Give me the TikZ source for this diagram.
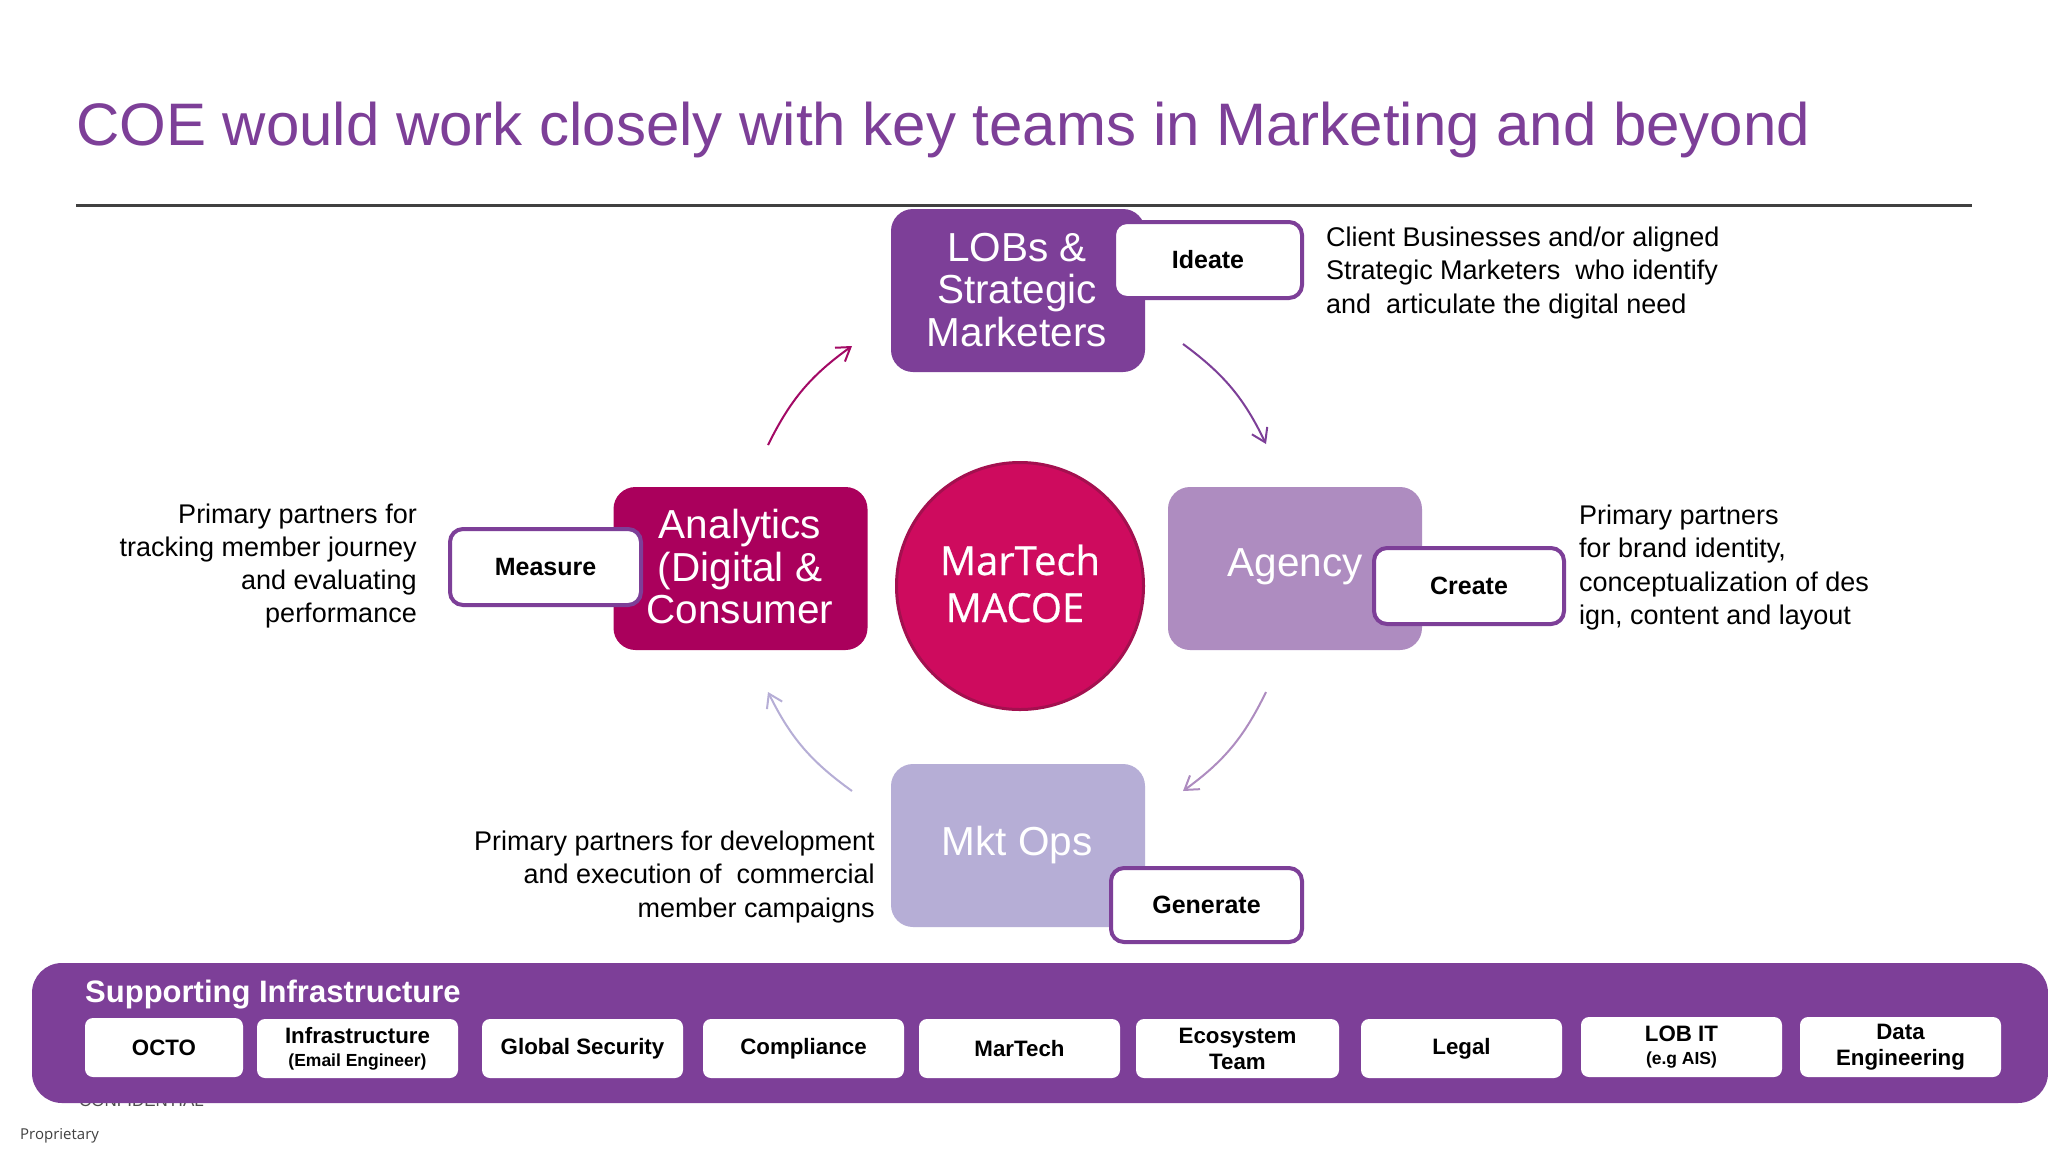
\documentclass[tikz,border=0pt]{standalone}
\usepackage{fontspec}
\setmainfont{Liberation Sans}
\newfontfamily\circlefont[FakeBold=0.6]{Open Sans}
\newfontfamily\propfont{Open Sans}
\usetikzlibrary{arrows.meta}
\definecolor{cpurple}{HTML}{7D3F98}
\definecolor{cmagenta}{HTML}{AA005C}
\definecolor{clilac}{HTML}{AE8CC0}
\definecolor{cperi}{HTML}{B6AED6}
\definecolor{cpink}{HTML}{CE0B5E}
\definecolor{cpinkdark}{HTML}{A3104F}
\definecolor{crule}{HTML}{404040}
\tikzset{
  x=1pt,y=-1pt,
  bigbox/.style={rounded corners=22pt,minimum width=254pt,minimum height=163pt,inner sep=0pt,outer sep=0pt},
  chip/.style={draw=cpurple,fill=white,line width=4pt,rounded corners=13pt,inner sep=0pt,outer sep=0pt,font=\bfseries\fontsize{25}{28}\selectfont,text=black},
  bigtext/.style={align=center,text=white,inner sep=0pt,font=\fontsize{40.5}{42.5}\selectfont},
  desc/.style={inner sep=0pt,text=black,font=\fontsize{27}{33.3}\selectfont},
  infra/.style={fill=white,rounded corners=8pt,inner sep=0pt,outer sep=0pt,align=center,text=black,font=\bfseries\fontsize{22.3}{26}\selectfont},
  cyc/.style={line width=2pt,-{Straight Barb[length=13pt,width=17pt,line width=2pt]}},
}
\newcommand{\subtxt}[1]{{\fontsize{17.5}{20}\selectfont #1}}
\begin{document}
\begin{tikzpicture}
\useasboundingbox (0,0) rectangle (2048,1152);
\fill[white] (0,0) rectangle (2048,1152);
\node[anchor=base west,inner sep=0pt,text=cpurple,font=\fontsize{60}{64}\selectfont] (title) at (76,145) {COE would work closely with key teams in Marketing and beyond};
\coordinate (ruleL) at (76,205);
\coordinate (ruleR) at (1972,205);
\draw[crule,line width=3pt] (ruleL) -- (ruleR);
% big boxes
\node[bigbox,fill=cpurple] (lobs) at (1018,290.5) {};
\node[bigbox,fill=cmagenta] (analytics) at (740.5,568.5) {};
\node[bigbox,fill=clilac] (agency) at (1295,568.5) {};
\node[bigbox,fill=cperi] (mktops) at (1018,845.5) {};
\node[bigtext] (lobst) at (1017,290) {LOBs \&\\Strategic\\Marketers};
\node[bigtext] (analyticst) at (740,567) {Analytics\\(Digital \&\\Consumer};
\node[bigtext] (agencyt) at (1295,567) {Agency};
\node[bigtext] (mktopst) at (1017,845) {Mkt Ops};
% circle
\node[circle,fill=cpink,draw=cpinkdark,line width=3pt,minimum size=247pt,inner sep=0pt,outer sep=0pt] (core) at (1020,586) {};
\node[anchor=base,inner sep=0pt,text=white,font=\circlefont\fontsize{40}{44}\selectfont] (coret1) at (1020,575) {MarTech};
\node[anchor=base,inner sep=0pt,text=white,font=\circlefont\fontsize{40}{44}\selectfont] (coret2) at (1015,622) {MACOE};
% chips
\node[chip,minimum width=188pt,minimum height=76pt] (ideate) at (1208,260) {Ideate};
\node[chip,minimum width=191pt,minimum height=76pt] (measure) at (545.5,567) {Measure};
\node[chip,minimum width=190pt,minimum height=76pt] (create) at (1469,586) {Create};
\node[chip,minimum width=191pt,minimum height=74pt] (generate) at (1206.5,905) {Generate};
% descriptions
\node[desc,anchor=west,align=left] (d1) at (1326,273) {Client Businesses and/or aligned\\Strategic Marketers\ \ who identify\\and\ \ articulate the digital need};
\node[desc,anchor=west,align=left] (d2) at (1579,567.5) {Primary partners\\for brand identity,\\conceptualization of des\\ign, content and layout};
\node[desc,anchor=east,align=right] (d3) at (417,566) {Primary partners for\\tracking member journey\\and evaluating\\performance};
\node[desc,anchor=east,align=right] (d4) at (875,877) {Primary partners for development\\and execution of\ \ commercial\\member campaigns};
% cycle arrows
\coordinate (a1s) at (768,445); \coordinate (a1e) at (852,346);
\coordinate (a2s) at (1183,344); \coordinate (a2e) at (1266,444);
\coordinate (a3s) at (1266,692); \coordinate (a3e) at (1183,791);
\coordinate (a4s) at (852,791); \coordinate (a4e) at (768,692);
\draw[cyc,color=cmagenta!85!cpurple] (a1s) to[bend left=14] (a1e);
\draw[cyc,color=cpurple] (a2s) to[bend left=14] (a2e);
\draw[cyc,color=clilac] (a3s) to[bend left=14] (a3e);
\draw[cyc,color=cperi] (a4s) to[bend left=14] (a4e);
% footer text behind the bar
\node[anchor=base west,inner sep=0pt,text=black!70,font=\fontsize{17}{20}\selectfont] (conf) at (79,1106.5) {CONFIDENTIAL};
% supporting bar
\node[fill=cpurple,rounded corners=30pt,minimum width=2016pt,minimum height=140pt,inner sep=0pt,outer sep=0pt] (bar) at (1040,1033) {};
\node[anchor=base west,inner sep=0pt,text=white,font=\bfseries\fontsize{31}{34}\selectfont] (bart) at (85,1002) {Supporting Infrastructure};
\node[infra,minimum width=158pt,minimum height=59pt] (i1) at (164,1047.5) {OCTO};
\node[infra,minimum width=201pt,minimum height=59pt] (i2) at (357.5,1048.5) {Infrastructure\\[-3pt]\subtxt{(Email Engineer)}};
\node[infra,minimum width=201pt,minimum height=59pt] (i3) at (582.5,1048.5) {Global Security};
\node[infra,minimum width=201pt,minimum height=59pt] (i4) at (803.5,1048.5) {Compliance};
\node[infra,minimum width=201pt,minimum height=59pt] (i5) at (1019.5,1048.5) {MarTech};
\node[infra,minimum width=203pt,minimum height=59pt] (i6) at (1237.5,1048.5) {Ecosystem\\Team};
\node[infra,minimum width=201pt,minimum height=59pt] (i7) at (1461.5,1048.5) {Legal};
\node[infra,minimum width=201pt,minimum height=60pt] (i8) at (1681.5,1047) {LOB IT\\[-3pt]\subtxt{(e.g AIS)}};
\node[infra,minimum width=201pt,minimum height=60pt] (i9) at (1900.5,1047) {Data\\Engineering};
\node[anchor=base west,inner sep=0pt,text=black!75,font=\propfont\fontsize{15}{18}\selectfont] (prop) at (20,1139) {Proprietary};
\end{tikzpicture}
\end{document}
